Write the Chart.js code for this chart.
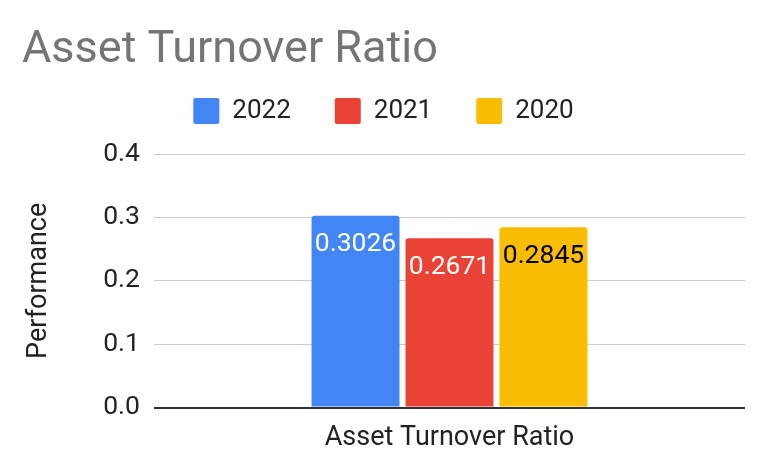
<!DOCTYPE html>
<html>
<head>
<meta charset="utf-8">
<script src="https://cdn.jsdelivr.net/npm/chart.js@4.4.1/dist/chart.umd.min.js"></script>
<style>
  html, body { margin: 0; padding: 0; background: #fff; }
  #wrap { width: 768px; height: 474px; }
</style>
</head>
<body>
<div id="wrap"><canvas id="c" width="768" height="474"></canvas></div>
<script>
const categories = ["Asset Turnover Ratio"];
const seriesNames = ["2022", "2021", "2020"];
const values2022 = [0.3026];
const values2021 = [0.2671];
const values2020 = [0.2845];
const yTicks = [0.0, 0.1, 0.2, 0.3, 0.4];

const colors = ["#4285F4", "#EA4335", "#FBBC04"];
const labelColors = ["#ffffff", "#ffffff", "#000000"];
const FONT = "Roboto, 'Liberation Sans', Arial, sans-serif";

const dataLabels = {
  id: "dataLabels",
  afterDatasetsDraw(chart) {
    const ctx = chart.ctx;
    ctx.save();
    ctx.font = "26.5px " + FONT;
    ctx.textAlign = "center";
    ctx.textBaseline = "middle";
    chart.data.datasets.forEach((ds, i) => {
      const meta = chart.getDatasetMeta(i);
      meta.data.forEach((bar, j) => {
        ctx.fillStyle = labelColors[i];
        ctx.fillText(ds.data[j].toFixed(4), bar.x, bar.y + 29);
      });
    });
    ctx.restore();
  }
};

new Chart(document.getElementById("c"), {
  type: "bar",
  data: {
    labels: categories,
    datasets: [
      { label: seriesNames[0], data: values2022, backgroundColor: colors[0] },
      { label: seriesNames[1], data: values2021, backgroundColor: colors[1] },
      { label: seriesNames[2], data: values2020, backgroundColor: colors[2] }
    ]
  },
  options: {
    responsive: false,
    devicePixelRatio: 1,
    animation: false,
    layout: { padding: { left: 22, right: 23, top: 0, bottom: 14 } },
    datasets: {
      bar: { categoryPercentage: 0.477, barPercentage: 0.936, borderRadius: 3, borderSkipped: "bottom" }
    },
    plugins: {
      title: {
        display: true,
        text: "Asset Turnover Ratio",
        align: "start",
        color: "#757575",
        font: { family: FONT, size: 45, weight: "normal" },
        padding: { top: 24, bottom: -24 }
      },
      subtitle: {
        display: true,
        text: "",
        position: "top",
        weight: 500,
        font: { size: 10 },
        padding: { top: 4, bottom: 4 }
      },
      legend: {
        display: true,
        position: "top",
        align: "center",
        labels: {
          color: "#222222",
          font: { family: FONT, size: 26 },
          boxWidth: 26,
          boxHeight: 26,
          padding: 44,
          useBorderRadius: true,
          borderRadius: 2
        }
      },
      tooltip: { enabled: false }
    },
    scales: {
      x: {
        grid: { display: false },
        border: { display: false },
        ticks: { color: "#222222", font: { family: FONT, size: 27 }, padding: 6 }
      },
      y: {
        min: 0,
        max: 0.4,
        afterFit(scale) { scale.width = 132; },
        afterBuildTicks(scale) { scale.ticks = yTicks.map(v => ({ value: v })); },
        border: { display: false },
        grid: {
          drawTicks: false,
          color: ctx => (ctx.tick && ctx.tick.value === 0 ? "#333333" : "#cccccc"),
          lineWidth: ctx => (ctx.tick && ctx.tick.value === 0 ? 2 : 1)
        },
        ticks: {
          color: "#222222",
          font: { family: FONT, size: 26.5 },
          padding: 14,
          callback: v => Number(v).toFixed(1)
        },
        title: {
          display: true,
          text: "Performance",
          color: "#222222",
          font: { family: FONT, size: 27 },
          padding: { top: 1, bottom: 0 }
        }
      }
    }
  },
  plugins: [dataLabels]
});
</script>
</body>
</html>
